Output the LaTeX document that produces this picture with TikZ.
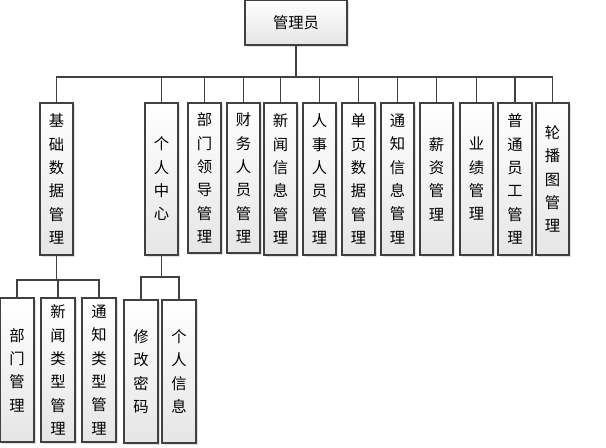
\documentclass[tikz,border=0pt]{standalone}
\usepackage{fontspec}
\newfontfamily\cjk{Noto Sans CJK SC}
\usetikzlibrary{shadows}
\begin{document}
\begin{tikzpicture}[x=0.75pt,y=-0.75pt,
  bx/.style={draw=black!75,line width=0.9pt,top color=white,bottom color=black!10,
    drop shadow={shadow xshift=1.5pt,shadow yshift=-1.5pt,fill=black!25},
    inner sep=0pt,align=center,font=\cjk\fontsize{11.5}{17.5}\selectfont},
  ln/.style={draw=black!75,line width=0.9pt}]
\useasboundingbox (0,0) rectangle (606,448);
\newcommand\bbox[6]{\node[bx,minimum width=#3*0.75pt-#2*0.75pt,minimum height=#5*0.75pt-#4*0.75pt] (#1) at ({(#2+#3)/2},{(#4+#5)/2}) {#6};}
\bbox{root}{245}{347}{0}{45}{管理员}
\bbox{a}{40}{73}{103}{255}{基\\础\\数\\据\\管\\理}
\bbox{b}{145}{178}{103}{255}{个\\人\\中\\心}
\bbox{c}{188}{221}{103}{253}{部\\门\\领\\导\\管\\理}
\bbox{d}{227}{260}{103}{253}{财\\务\\人\\员\\管\\理}
\bbox{e}{264}{297}{103}{255}{新\\闻\\信\\息\\管\\理}
\bbox{f}{303}{336}{103}{255}{人\\事\\人\\员\\管\\理}
\bbox{g}{342}{375}{103}{255}{单\\页\\数\\据\\管\\理}
\bbox{h}{381}{414}{103}{255}{通\\知\\信\\息\\管\\理}
\bbox{i}{420}{453}{103}{255}{薪\\资\\管\\理}
\bbox{j}{460}{493}{103}{255}{业\\绩\\管\\理}
\bbox{k}{498}{532}{103}{255}{普\\通\\员\\工\\管\\理}
\bbox{l}{536}{569}{103}{255}{轮\\播\\图\\管\\理}
\bbox{a1}{0}{34}{298}{442}{部\\门\\管\\理}
\bbox{a2}{41}{75}{298}{442}{新\\闻\\类\\型\\管\\理}
\bbox{a3}{82}{116}{298}{442}{通\\知\\类\\型\\管\\理}
\bbox{b1}{124}{158}{300}{443}{修\\改\\密\\码}
\bbox{b2}{162}{196}{300}{443}{个\\人\\信\\息}
\coordinate (bus) at (0,77);
\draw[ln] (root.south) -- (root.south |- bus);
\draw[ln] (a.north) -- (a.north |- bus) -- (l.north |- bus) -- (l.north);
\foreach \n in {b,c,d,e,f,g,h,i,j,k}{\draw[ln] (\n.north) -- (\n.north |- bus);}
\coordinate (busa) at (0,280);
\draw[ln] (a.south) -- (a.south |- busa);
\draw[ln] (a1.north) -- (a1.north |- busa) -- (a3.north |- busa) -- (a3.north);
\draw[ln] (a2.north) -- (a2.north |- busa);
\coordinate (busb) at (0,277);
\draw[ln] (b.south) -- (b.south |- busb);
\draw[ln] (b1.north) -- (b1.north |- busb) -- (b2.north |- busb) -- (b2.north);
\end{tikzpicture}
\end{document}
